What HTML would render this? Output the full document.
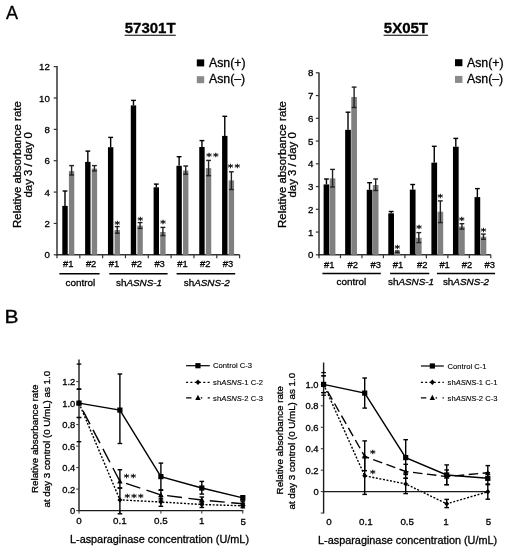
<!DOCTYPE html>
<html><head><meta charset="utf-8"><title>Figure</title>
<style>html,body{margin:0;padding:0;background:#fff}svg{display:block}</style></head>
<body>
<svg width="511" height="550" viewBox="0 0 511 550" font-family="Liberation Sans, Arial, Helvetica, sans-serif">
<style>text{stroke:#000;stroke-width:0.3px}</style>
<rect width="511" height="550" fill="#fff"/>
<text x="5.90" y="19.20" font-size="18" text-anchor="start" font-weight="normal" fill="#000" >A</text>
<text transform="translate(4.4,323.3) scale(1.17,1)" font-size="18">B</text>
<text x="150.20" y="33.00" font-size="15" text-anchor="middle" font-weight="bold" fill="#000" >57301T</text>
<line x1="124.60" y1="35.20" x2="175.80" y2="35.20" stroke="#000" stroke-width="1.1" />
<rect x="196.80" y="59.40" width="7.40" height="7.00" fill="#000"/>
<text x="209.00" y="66.60" font-size="12.3" text-anchor="start" font-weight="normal" fill="#000" >Asn(+)</text>
<rect x="196.80" y="76.20" width="7.40" height="7.00" fill="#8a8a8a"/>
<text x="209.00" y="83.40" font-size="12.3" text-anchor="start" font-weight="normal" fill="#000" >Asn(–)</text>
<line x1="57.00" y1="66.00" x2="57.00" y2="255.50" stroke="#333" stroke-width="1.5" />
<line x1="56.30" y1="254.80" x2="239.60" y2="254.80" stroke="#333" stroke-width="1.5" />
<line x1="53.70" y1="254.80" x2="57.00" y2="254.80" stroke="#333" stroke-width="1.2" />
<text x="49.80" y="258.40" font-size="9.7" text-anchor="end" font-weight="normal" fill="#000" >0</text>
<line x1="53.70" y1="223.44" x2="57.00" y2="223.44" stroke="#333" stroke-width="1.2" />
<text x="49.80" y="227.04" font-size="9.7" text-anchor="end" font-weight="normal" fill="#000" >2</text>
<line x1="53.70" y1="192.08" x2="57.00" y2="192.08" stroke="#333" stroke-width="1.2" />
<text x="49.80" y="195.68" font-size="9.7" text-anchor="end" font-weight="normal" fill="#000" >4</text>
<line x1="53.70" y1="160.72" x2="57.00" y2="160.72" stroke="#333" stroke-width="1.2" />
<text x="49.80" y="164.32" font-size="9.7" text-anchor="end" font-weight="normal" fill="#000" >6</text>
<line x1="53.70" y1="129.36" x2="57.00" y2="129.36" stroke="#333" stroke-width="1.2" />
<text x="49.80" y="132.96" font-size="9.7" text-anchor="end" font-weight="normal" fill="#000" >8</text>
<line x1="53.70" y1="98.00" x2="57.00" y2="98.00" stroke="#333" stroke-width="1.2" />
<text x="49.80" y="101.60" font-size="9.7" text-anchor="end" font-weight="normal" fill="#000" >10</text>
<line x1="53.70" y1="66.64" x2="57.00" y2="66.64" stroke="#333" stroke-width="1.2" />
<text x="49.80" y="70.24" font-size="9.7" text-anchor="end" font-weight="normal" fill="#000" >12</text>
<line x1="57.00" y1="254.80" x2="57.00" y2="258.20" stroke="#333" stroke-width="1.2" />
<line x1="79.83" y1="254.80" x2="79.83" y2="258.20" stroke="#333" stroke-width="1.2" />
<line x1="102.65" y1="254.80" x2="102.65" y2="258.20" stroke="#333" stroke-width="1.2" />
<line x1="125.47" y1="254.80" x2="125.47" y2="258.20" stroke="#333" stroke-width="1.2" />
<line x1="148.30" y1="254.80" x2="148.30" y2="258.20" stroke="#333" stroke-width="1.2" />
<line x1="171.12" y1="254.80" x2="171.12" y2="258.20" stroke="#333" stroke-width="1.2" />
<line x1="193.95" y1="254.80" x2="193.95" y2="258.20" stroke="#333" stroke-width="1.2" />
<line x1="216.78" y1="254.80" x2="216.78" y2="258.20" stroke="#333" stroke-width="1.2" />
<line x1="239.60" y1="254.80" x2="239.60" y2="258.20" stroke="#333" stroke-width="1.2" />
<text transform="translate(20.6,164.6) rotate(-90)" font-size="11.4" text-anchor="middle">Relative absorbance rate</text>
<text transform="translate(31.6,164.9) rotate(-90)" font-size="11.4" text-anchor="middle">day 3 / day 0</text>
<rect x="62.30" y="205.90" width="5.40" height="48.90" fill="#000"/>
<line x1="65.00" y1="191.00" x2="65.00" y2="205.90" stroke="#000" stroke-width="1.4" />
<line x1="62.60" y1="191.00" x2="67.40" y2="191.00" stroke="#000" stroke-width="1.4" />
<rect x="68.90" y="171.10" width="5.40" height="83.70" fill="#808080"/>
<line x1="71.60" y1="165.60" x2="71.60" y2="175.00" stroke="#222" stroke-width="1.4" />
<line x1="69.20" y1="165.60" x2="74.00" y2="165.60" stroke="#222" stroke-width="1.4" />
<line x1="69.20" y1="175.00" x2="74.00" y2="175.00" stroke="#222" stroke-width="1.4" />
<rect x="85.12" y="161.90" width="5.40" height="92.90" fill="#000"/>
<line x1="87.83" y1="151.10" x2="87.83" y2="161.90" stroke="#000" stroke-width="1.4" />
<line x1="85.42" y1="151.10" x2="90.23" y2="151.10" stroke="#000" stroke-width="1.4" />
<rect x="91.73" y="168.60" width="5.40" height="86.20" fill="#808080"/>
<line x1="94.43" y1="165.60" x2="94.43" y2="170.90" stroke="#222" stroke-width="1.4" />
<line x1="92.03" y1="165.60" x2="96.83" y2="165.60" stroke="#222" stroke-width="1.4" />
<line x1="92.03" y1="170.90" x2="96.83" y2="170.90" stroke="#222" stroke-width="1.4" />
<rect x="107.95" y="147.20" width="5.40" height="107.60" fill="#000"/>
<line x1="110.65" y1="137.40" x2="110.65" y2="147.20" stroke="#000" stroke-width="1.4" />
<line x1="108.25" y1="137.40" x2="113.05" y2="137.40" stroke="#000" stroke-width="1.4" />
<rect x="114.55" y="230.00" width="5.40" height="24.80" fill="#808080"/>
<line x1="117.25" y1="226.60" x2="117.25" y2="233.20" stroke="#222" stroke-width="1.4" />
<line x1="114.85" y1="226.60" x2="119.65" y2="226.60" stroke="#222" stroke-width="1.4" />
<line x1="114.85" y1="233.20" x2="119.65" y2="233.20" stroke="#222" stroke-width="1.4" />
<rect x="130.78" y="105.40" width="5.40" height="149.40" fill="#000"/>
<line x1="133.47" y1="100.40" x2="133.47" y2="105.40" stroke="#000" stroke-width="1.4" />
<line x1="131.07" y1="100.40" x2="135.88" y2="100.40" stroke="#000" stroke-width="1.4" />
<rect x="137.38" y="225.60" width="5.40" height="29.20" fill="#808080"/>
<line x1="140.07" y1="222.60" x2="140.07" y2="228.40" stroke="#222" stroke-width="1.4" />
<line x1="137.67" y1="222.60" x2="142.47" y2="222.60" stroke="#222" stroke-width="1.4" />
<line x1="137.67" y1="228.40" x2="142.47" y2="228.40" stroke="#222" stroke-width="1.4" />
<rect x="153.60" y="187.30" width="5.40" height="67.50" fill="#000"/>
<line x1="156.30" y1="184.10" x2="156.30" y2="187.30" stroke="#000" stroke-width="1.4" />
<line x1="153.90" y1="184.10" x2="158.70" y2="184.10" stroke="#000" stroke-width="1.4" />
<rect x="160.20" y="232.00" width="5.40" height="22.80" fill="#808080"/>
<line x1="162.90" y1="227.40" x2="162.90" y2="235.60" stroke="#222" stroke-width="1.4" />
<line x1="160.50" y1="227.40" x2="165.30" y2="227.40" stroke="#222" stroke-width="1.4" />
<line x1="160.50" y1="235.60" x2="165.30" y2="235.60" stroke="#222" stroke-width="1.4" />
<rect x="176.43" y="165.80" width="5.40" height="89.00" fill="#000"/>
<line x1="179.12" y1="156.70" x2="179.12" y2="165.80" stroke="#000" stroke-width="1.4" />
<line x1="176.72" y1="156.70" x2="181.53" y2="156.70" stroke="#000" stroke-width="1.4" />
<rect x="183.03" y="170.50" width="5.40" height="84.30" fill="#808080"/>
<line x1="185.72" y1="166.00" x2="185.72" y2="174.20" stroke="#222" stroke-width="1.4" />
<line x1="183.32" y1="166.00" x2="188.12" y2="166.00" stroke="#222" stroke-width="1.4" />
<line x1="183.32" y1="174.20" x2="188.12" y2="174.20" stroke="#222" stroke-width="1.4" />
<rect x="199.25" y="147.00" width="5.40" height="107.80" fill="#000"/>
<line x1="201.95" y1="140.60" x2="201.95" y2="147.00" stroke="#000" stroke-width="1.4" />
<line x1="199.55" y1="140.60" x2="204.35" y2="140.60" stroke="#000" stroke-width="1.4" />
<rect x="205.85" y="168.10" width="5.40" height="86.70" fill="#808080"/>
<line x1="208.55" y1="160.40" x2="208.55" y2="175.70" stroke="#222" stroke-width="1.4" />
<line x1="206.15" y1="160.40" x2="210.95" y2="160.40" stroke="#222" stroke-width="1.4" />
<line x1="206.15" y1="175.70" x2="210.95" y2="175.70" stroke="#222" stroke-width="1.4" />
<rect x="222.08" y="135.90" width="5.40" height="118.90" fill="#000"/>
<line x1="224.78" y1="116.30" x2="224.78" y2="135.90" stroke="#000" stroke-width="1.4" />
<line x1="222.38" y1="116.30" x2="227.18" y2="116.30" stroke="#000" stroke-width="1.4" />
<rect x="228.68" y="180.40" width="5.40" height="74.40" fill="#808080"/>
<line x1="231.38" y1="171.80" x2="231.38" y2="189.50" stroke="#222" stroke-width="1.4" />
<line x1="228.97" y1="171.80" x2="233.78" y2="171.80" stroke="#222" stroke-width="1.4" />
<line x1="228.97" y1="189.50" x2="233.78" y2="189.50" stroke="#222" stroke-width="1.4" />
<text x="68.31" y="267.30" font-size="9.4" text-anchor="middle" font-weight="normal" fill="#000" >#1</text>
<text x="91.14" y="267.30" font-size="9.4" text-anchor="middle" font-weight="normal" fill="#000" >#2</text>
<text x="113.96" y="267.30" font-size="9.4" text-anchor="middle" font-weight="normal" fill="#000" >#1</text>
<text x="136.79" y="267.30" font-size="9.4" text-anchor="middle" font-weight="normal" fill="#000" >#2</text>
<text x="159.61" y="267.30" font-size="9.4" text-anchor="middle" font-weight="normal" fill="#000" >#3</text>
<text x="182.44" y="267.30" font-size="9.4" text-anchor="middle" font-weight="normal" fill="#000" >#1</text>
<text x="205.26" y="267.30" font-size="9.4" text-anchor="middle" font-weight="normal" fill="#000" >#2</text>
<text x="228.09" y="267.30" font-size="9.4" text-anchor="middle" font-weight="normal" fill="#000" >#3</text>
<line x1="59.40" y1="273.80" x2="99.60" y2="273.80" stroke="#000" stroke-width="1.5" />
<line x1="109.30" y1="273.80" x2="167.60" y2="273.80" stroke="#000" stroke-width="1.5" />
<line x1="176.60" y1="273.80" x2="235.20" y2="273.80" stroke="#000" stroke-width="1.5" />
<text x="80.30" y="285.60" font-size="9.9" text-anchor="middle" font-weight="normal" fill="#000" >control</text>
<text x="116.0" y="285.6" font-size="9.9">sh<tspan font-style="italic">ASNS-1</tspan></text>
<text x="183.7" y="285.6" font-size="9.9">sh<tspan font-style="italic">ASNS-2</tspan></text>
<text transform="translate(117.40,222.70) scale(1.12,0.92)" x="0" y="5.50" font-size="10" text-anchor="middle" font-family="DejaVu Sans, sans-serif" style="stroke-width:0.3px">*</text>
<text transform="translate(140.40,218.80) scale(1.12,0.92)" x="0" y="5.50" font-size="10" text-anchor="middle" font-family="DejaVu Sans, sans-serif" style="stroke-width:0.3px">*</text>
<text transform="translate(163.00,222.10) scale(1.12,0.92)" x="0" y="5.50" font-size="10" text-anchor="middle" font-family="DejaVu Sans, sans-serif" style="stroke-width:0.3px">*</text>
<text transform="translate(209.10,154.50) scale(1.12,0.92)" x="0" y="5.50" font-size="10" text-anchor="middle" font-family="DejaVu Sans, sans-serif" style="stroke-width:0.3px">*</text>
<text transform="translate(215.80,154.50) scale(1.12,0.92)" x="0" y="5.50" font-size="10" text-anchor="middle" font-family="DejaVu Sans, sans-serif" style="stroke-width:0.3px">*</text>
<text transform="translate(230.60,165.50) scale(1.12,0.92)" x="0" y="5.50" font-size="10" text-anchor="middle" font-family="DejaVu Sans, sans-serif" style="stroke-width:0.3px">*</text>
<text transform="translate(237.30,165.50) scale(1.12,0.92)" x="0" y="5.50" font-size="10" text-anchor="middle" font-family="DejaVu Sans, sans-serif" style="stroke-width:0.3px">*</text>
<text x="405.90" y="33.00" font-size="15" text-anchor="middle" font-weight="bold" fill="#000" >5X05T</text>
<line x1="383.60" y1="35.30" x2="428.10" y2="35.30" stroke="#000" stroke-width="1.1" />
<rect x="455.00" y="59.20" width="7.40" height="7.00" fill="#000"/>
<text x="467.00" y="66.60" font-size="12.3" text-anchor="start" font-weight="normal" fill="#000" >Asn(+)</text>
<rect x="455.00" y="75.90" width="7.40" height="7.00" fill="#8a8a8a"/>
<text x="467.00" y="83.40" font-size="12.3" text-anchor="start" font-weight="normal" fill="#000" >Asn(–)</text>
<line x1="319.00" y1="72.40" x2="319.00" y2="255.50" stroke="#333" stroke-width="1.5" />
<line x1="318.30" y1="254.80" x2="490.80" y2="254.80" stroke="#333" stroke-width="1.5" />
<line x1="315.80" y1="254.80" x2="319.00" y2="254.80" stroke="#333" stroke-width="1.2" />
<text x="313.40" y="258.40" font-size="9.7" text-anchor="end" font-weight="normal" fill="#000" >0</text>
<line x1="315.80" y1="232.05" x2="319.00" y2="232.05" stroke="#333" stroke-width="1.2" />
<text x="313.40" y="235.65" font-size="9.7" text-anchor="end" font-weight="normal" fill="#000" >1</text>
<line x1="315.80" y1="209.30" x2="319.00" y2="209.30" stroke="#333" stroke-width="1.2" />
<text x="313.40" y="212.90" font-size="9.7" text-anchor="end" font-weight="normal" fill="#000" >2</text>
<line x1="315.80" y1="186.55" x2="319.00" y2="186.55" stroke="#333" stroke-width="1.2" />
<text x="313.40" y="190.15" font-size="9.7" text-anchor="end" font-weight="normal" fill="#000" >3</text>
<line x1="315.80" y1="163.80" x2="319.00" y2="163.80" stroke="#333" stroke-width="1.2" />
<text x="313.40" y="167.40" font-size="9.7" text-anchor="end" font-weight="normal" fill="#000" >4</text>
<line x1="315.80" y1="141.05" x2="319.00" y2="141.05" stroke="#333" stroke-width="1.2" />
<text x="313.40" y="144.65" font-size="9.7" text-anchor="end" font-weight="normal" fill="#000" >5</text>
<line x1="315.80" y1="118.30" x2="319.00" y2="118.30" stroke="#333" stroke-width="1.2" />
<text x="313.40" y="121.90" font-size="9.7" text-anchor="end" font-weight="normal" fill="#000" >6</text>
<line x1="315.80" y1="95.55" x2="319.00" y2="95.55" stroke="#333" stroke-width="1.2" />
<text x="313.40" y="99.15" font-size="9.7" text-anchor="end" font-weight="normal" fill="#000" >7</text>
<line x1="315.80" y1="72.80" x2="319.00" y2="72.80" stroke="#333" stroke-width="1.2" />
<text x="313.40" y="76.40" font-size="9.7" text-anchor="end" font-weight="normal" fill="#000" >8</text>
<line x1="319.00" y1="254.80" x2="319.00" y2="258.20" stroke="#333" stroke-width="1.2" />
<line x1="340.48" y1="254.80" x2="340.48" y2="258.20" stroke="#333" stroke-width="1.2" />
<line x1="361.95" y1="254.80" x2="361.95" y2="258.20" stroke="#333" stroke-width="1.2" />
<line x1="383.43" y1="254.80" x2="383.43" y2="258.20" stroke="#333" stroke-width="1.2" />
<line x1="404.90" y1="254.80" x2="404.90" y2="258.20" stroke="#333" stroke-width="1.2" />
<line x1="426.38" y1="254.80" x2="426.38" y2="258.20" stroke="#333" stroke-width="1.2" />
<line x1="447.85" y1="254.80" x2="447.85" y2="258.20" stroke="#333" stroke-width="1.2" />
<line x1="469.33" y1="254.80" x2="469.33" y2="258.20" stroke="#333" stroke-width="1.2" />
<line x1="490.80" y1="254.80" x2="490.80" y2="258.20" stroke="#333" stroke-width="1.2" />
<text transform="translate(285.5,164.6) rotate(-90)" font-size="11.4" text-anchor="middle">Relative absorbance rate</text>
<text transform="translate(296.3,164.9) rotate(-90)" font-size="11.4" text-anchor="middle">day 3 / day 0</text>
<rect x="323.60" y="184.40" width="5.70" height="70.40" fill="#000"/>
<line x1="326.45" y1="179.00" x2="326.45" y2="184.40" stroke="#000" stroke-width="1.4" />
<line x1="324.05" y1="179.00" x2="328.85" y2="179.00" stroke="#000" stroke-width="1.4" />
<rect x="329.70" y="178.40" width="5.70" height="76.40" fill="#808080"/>
<line x1="332.55" y1="169.40" x2="332.55" y2="187.00" stroke="#222" stroke-width="1.4" />
<line x1="330.15" y1="169.40" x2="334.95" y2="169.40" stroke="#222" stroke-width="1.4" />
<line x1="330.15" y1="187.00" x2="334.95" y2="187.00" stroke="#222" stroke-width="1.4" />
<rect x="345.16" y="129.80" width="5.70" height="125.00" fill="#000"/>
<line x1="348.01" y1="112.20" x2="348.01" y2="129.80" stroke="#000" stroke-width="1.4" />
<line x1="345.61" y1="112.20" x2="350.41" y2="112.20" stroke="#000" stroke-width="1.4" />
<rect x="351.26" y="97.00" width="5.70" height="157.80" fill="#808080"/>
<line x1="354.11" y1="87.10" x2="354.11" y2="107.50" stroke="#222" stroke-width="1.4" />
<line x1="351.71" y1="87.10" x2="356.51" y2="87.10" stroke="#222" stroke-width="1.4" />
<line x1="351.71" y1="107.50" x2="356.51" y2="107.50" stroke="#222" stroke-width="1.4" />
<rect x="366.72" y="189.80" width="5.70" height="65.00" fill="#000"/>
<line x1="369.57" y1="182.70" x2="369.57" y2="189.80" stroke="#000" stroke-width="1.4" />
<line x1="367.17" y1="182.70" x2="371.97" y2="182.70" stroke="#000" stroke-width="1.4" />
<rect x="372.82" y="185.00" width="5.70" height="69.80" fill="#808080"/>
<line x1="375.67" y1="179.00" x2="375.67" y2="190.50" stroke="#222" stroke-width="1.4" />
<line x1="373.27" y1="179.00" x2="378.07" y2="179.00" stroke="#222" stroke-width="1.4" />
<line x1="373.27" y1="190.50" x2="378.07" y2="190.50" stroke="#222" stroke-width="1.4" />
<rect x="388.28" y="213.30" width="5.70" height="41.50" fill="#000"/>
<line x1="391.13" y1="211.50" x2="391.13" y2="213.30" stroke="#000" stroke-width="1.4" />
<line x1="388.73" y1="211.50" x2="393.53" y2="211.50" stroke="#000" stroke-width="1.4" />
<rect x="394.38" y="251.80" width="5.70" height="3.00" fill="#808080"/>
<line x1="397.23" y1="251.00" x2="397.23" y2="252.60" stroke="#222" stroke-width="1.4" />
<line x1="394.83" y1="251.00" x2="399.63" y2="251.00" stroke="#222" stroke-width="1.4" />
<line x1="394.83" y1="252.60" x2="399.63" y2="252.60" stroke="#222" stroke-width="1.4" />
<rect x="409.84" y="189.60" width="5.70" height="65.20" fill="#000"/>
<line x1="412.69" y1="184.50" x2="412.69" y2="189.60" stroke="#000" stroke-width="1.4" />
<line x1="410.29" y1="184.50" x2="415.09" y2="184.50" stroke="#000" stroke-width="1.4" />
<rect x="415.94" y="237.80" width="5.70" height="17.00" fill="#808080"/>
<line x1="418.79" y1="232.60" x2="418.79" y2="242.60" stroke="#222" stroke-width="1.4" />
<line x1="416.39" y1="232.60" x2="421.19" y2="232.60" stroke="#222" stroke-width="1.4" />
<line x1="416.39" y1="242.60" x2="421.19" y2="242.60" stroke="#222" stroke-width="1.4" />
<rect x="431.40" y="162.60" width="5.70" height="92.20" fill="#000"/>
<line x1="434.25" y1="146.30" x2="434.25" y2="162.60" stroke="#000" stroke-width="1.4" />
<line x1="431.85" y1="146.30" x2="436.65" y2="146.30" stroke="#000" stroke-width="1.4" />
<rect x="437.50" y="211.70" width="5.70" height="43.10" fill="#808080"/>
<line x1="440.35" y1="200.90" x2="440.35" y2="222.60" stroke="#222" stroke-width="1.4" />
<line x1="437.95" y1="200.90" x2="442.75" y2="200.90" stroke="#222" stroke-width="1.4" />
<line x1="437.95" y1="222.60" x2="442.75" y2="222.60" stroke="#222" stroke-width="1.4" />
<rect x="452.96" y="146.70" width="5.70" height="108.10" fill="#000"/>
<line x1="455.81" y1="138.40" x2="455.81" y2="146.70" stroke="#000" stroke-width="1.4" />
<line x1="453.41" y1="138.40" x2="458.21" y2="138.40" stroke="#000" stroke-width="1.4" />
<rect x="459.06" y="226.50" width="5.70" height="28.30" fill="#808080"/>
<line x1="461.91" y1="223.70" x2="461.91" y2="229.10" stroke="#222" stroke-width="1.4" />
<line x1="459.51" y1="223.70" x2="464.31" y2="223.70" stroke="#222" stroke-width="1.4" />
<line x1="459.51" y1="229.10" x2="464.31" y2="229.10" stroke="#222" stroke-width="1.4" />
<rect x="474.52" y="197.10" width="5.70" height="57.70" fill="#000"/>
<line x1="477.37" y1="188.60" x2="477.37" y2="197.10" stroke="#000" stroke-width="1.4" />
<line x1="474.97" y1="188.60" x2="479.77" y2="188.60" stroke="#000" stroke-width="1.4" />
<rect x="480.62" y="236.70" width="5.70" height="18.10" fill="#808080"/>
<line x1="483.47" y1="234.10" x2="483.47" y2="239.30" stroke="#222" stroke-width="1.4" />
<line x1="481.07" y1="234.10" x2="485.87" y2="234.10" stroke="#222" stroke-width="1.4" />
<line x1="481.07" y1="239.30" x2="485.87" y2="239.30" stroke="#222" stroke-width="1.4" />
<text x="329.30" y="267.60" font-size="9.4" text-anchor="middle" font-weight="normal" fill="#000" >#1</text>
<text x="352.70" y="267.60" font-size="9.4" text-anchor="middle" font-weight="normal" fill="#000" >#2</text>
<text x="375.80" y="267.60" font-size="9.4" text-anchor="middle" font-weight="normal" fill="#000" >#3</text>
<text x="397.90" y="267.60" font-size="9.4" text-anchor="middle" font-weight="normal" fill="#000" >#1</text>
<text x="422.30" y="267.60" font-size="9.4" text-anchor="middle" font-weight="normal" fill="#000" >#2</text>
<text x="444.60" y="267.60" font-size="9.4" text-anchor="middle" font-weight="normal" fill="#000" >#1</text>
<text x="467.00" y="267.60" font-size="9.4" text-anchor="middle" font-weight="normal" fill="#000" >#2</text>
<text x="489.70" y="267.60" font-size="9.4" text-anchor="middle" font-weight="normal" fill="#000" >#3</text>
<line x1="322.40" y1="273.60" x2="380.80" y2="273.60" stroke="#000" stroke-width="1.5" />
<line x1="390.10" y1="273.60" x2="429.30" y2="273.60" stroke="#000" stroke-width="1.5" />
<line x1="436.90" y1="273.60" x2="495.10" y2="273.60" stroke="#000" stroke-width="1.5" />
<text x="351.30" y="285.40" font-size="9.9" text-anchor="middle" font-weight="normal" fill="#000" >control</text>
<text x="388.0" y="285.2" font-size="9.9">sh<tspan font-style="italic">ASNS-1</tspan></text>
<text x="442.9" y="285.2" font-size="9.9">sh<tspan font-style="italic">ASNS-2</tspan></text>
<text transform="translate(397.40,246.50) scale(1.12,0.92)" x="0" y="5.50" font-size="10" text-anchor="middle" font-family="DejaVu Sans, sans-serif" style="stroke-width:0.3px">*</text>
<text transform="translate(419.10,227.40) scale(1.12,0.92)" x="0" y="5.50" font-size="10" text-anchor="middle" font-family="DejaVu Sans, sans-serif" style="stroke-width:0.3px">*</text>
<text transform="translate(440.30,195.80) scale(1.12,0.92)" x="0" y="5.50" font-size="10" text-anchor="middle" font-family="DejaVu Sans, sans-serif" style="stroke-width:0.3px">*</text>
<text transform="translate(461.90,219.30) scale(1.12,0.92)" x="0" y="5.50" font-size="10" text-anchor="middle" font-family="DejaVu Sans, sans-serif" style="stroke-width:0.3px">*</text>
<text transform="translate(483.60,229.70) scale(1.12,0.92)" x="0" y="5.50" font-size="10" text-anchor="middle" font-family="DejaVu Sans, sans-serif" style="stroke-width:0.3px">*</text>
<line x1="79.00" y1="359.40" x2="79.00" y2="511.30" stroke="#1c1c1c" stroke-width="1.4" />
<line x1="78.30" y1="510.60" x2="243.40" y2="510.60" stroke="#1c1c1c" stroke-width="1.4" />
<line x1="76.20" y1="510.60" x2="79.00" y2="510.60" stroke="#333" stroke-width="1" />
<text x="75.30" y="514.00" font-size="9.4" text-anchor="end" font-weight="normal" fill="#000" >0</text>
<line x1="76.20" y1="489.10" x2="79.00" y2="489.10" stroke="#333" stroke-width="1" />
<text x="75.30" y="492.50" font-size="9.4" text-anchor="end" font-weight="normal" fill="#000" >0.2</text>
<line x1="76.20" y1="467.60" x2="79.00" y2="467.60" stroke="#333" stroke-width="1" />
<text x="75.30" y="471.00" font-size="9.4" text-anchor="end" font-weight="normal" fill="#000" >0.4</text>
<line x1="76.20" y1="446.10" x2="79.00" y2="446.10" stroke="#333" stroke-width="1" />
<text x="75.30" y="449.50" font-size="9.4" text-anchor="end" font-weight="normal" fill="#000" >0.6</text>
<line x1="76.20" y1="424.60" x2="79.00" y2="424.60" stroke="#333" stroke-width="1" />
<text x="75.30" y="428.00" font-size="9.4" text-anchor="end" font-weight="normal" fill="#000" >0.8</text>
<line x1="76.20" y1="403.10" x2="79.00" y2="403.10" stroke="#333" stroke-width="1" />
<text x="75.30" y="406.50" font-size="9.4" text-anchor="end" font-weight="normal" fill="#000" >1.0</text>
<line x1="76.20" y1="381.60" x2="79.00" y2="381.60" stroke="#333" stroke-width="1" />
<text x="75.30" y="385.00" font-size="9.4" text-anchor="end" font-weight="normal" fill="#000" >1.2</text>
<line x1="79.00" y1="510.60" x2="79.00" y2="513.60" stroke="#333" stroke-width="1" />
<text x="79.00" y="524.40" font-size="9.8" text-anchor="middle" font-weight="normal" fill="#000" >0</text>
<line x1="119.90" y1="510.60" x2="119.90" y2="513.60" stroke="#333" stroke-width="1" />
<text x="119.90" y="524.40" font-size="9.8" text-anchor="middle" font-weight="normal" fill="#000" >0.1</text>
<line x1="160.90" y1="510.60" x2="160.90" y2="513.60" stroke="#333" stroke-width="1" />
<text x="160.90" y="524.40" font-size="9.8" text-anchor="middle" font-weight="normal" fill="#000" >0.5</text>
<line x1="201.80" y1="510.60" x2="201.80" y2="513.60" stroke="#333" stroke-width="1" />
<text x="201.80" y="524.40" font-size="9.8" text-anchor="middle" font-weight="normal" fill="#000" >1</text>
<line x1="242.80" y1="510.60" x2="242.80" y2="513.60" stroke="#333" stroke-width="1" />
<text x="243.30" y="525.40" font-size="9.8" text-anchor="middle" font-weight="normal" fill="#000" >5</text>
<text transform="translate(37.8,438.8) rotate(-90)" font-size="9.75" text-anchor="middle">Relative absorbance rate</text>
<text transform="translate(49.6,439.2) rotate(-90)" font-size="9.75" text-anchor="middle">at day 3 control (0 U/mL) as 1.0</text>
<text x="159.50" y="542.50" font-size="10.85" text-anchor="middle" font-weight="normal" fill="#000" >L-asparaginase concentration (U/mL)</text>
<polyline points="79.00,403.10 119.90,499.90 160.90,502.00 201.80,504.50 242.80,505.80" fill="none" stroke="#000" stroke-width="1.4" stroke-dasharray="2 1.6"/>
<line x1="76.70" y1="389.10" x2="81.30" y2="389.10" stroke="#000" stroke-width="1.3" />
<line x1="76.70" y1="417.50" x2="81.30" y2="417.50" stroke="#000" stroke-width="1.3" />
<path d="M79.00 400.40 L81.50 403.10 L79.00 405.80 L76.50 403.10 Z" fill="#000"/>
<line x1="119.90" y1="488.00" x2="119.90" y2="513.80" stroke="#000" stroke-width="1.4" />
<line x1="117.60" y1="488.00" x2="122.20" y2="488.00" stroke="#000" stroke-width="1.4" />
<line x1="117.60" y1="513.80" x2="122.20" y2="513.80" stroke="#000" stroke-width="1.4" />
<path d="M119.90 497.20 L122.40 499.90 L119.90 502.60 L117.40 499.90 Z" fill="#000"/>
<line x1="160.90" y1="498.20" x2="160.90" y2="506.30" stroke="#000" stroke-width="1.4" />
<line x1="158.60" y1="498.20" x2="163.20" y2="498.20" stroke="#000" stroke-width="1.4" />
<line x1="158.60" y1="506.30" x2="163.20" y2="506.30" stroke="#000" stroke-width="1.4" />
<path d="M160.90 499.30 L163.40 502.00 L160.90 504.70 L158.40 502.00 Z" fill="#000"/>
<line x1="201.80" y1="501.50" x2="201.80" y2="507.50" stroke="#000" stroke-width="1.4" />
<line x1="199.50" y1="501.50" x2="204.10" y2="501.50" stroke="#000" stroke-width="1.4" />
<line x1="199.50" y1="507.50" x2="204.10" y2="507.50" stroke="#000" stroke-width="1.4" />
<path d="M201.80 501.80 L204.30 504.50 L201.80 507.20 L199.30 504.50 Z" fill="#000"/>
<line x1="242.80" y1="503.80" x2="242.80" y2="507.80" stroke="#000" stroke-width="1.4" />
<line x1="240.50" y1="503.80" x2="245.10" y2="503.80" stroke="#000" stroke-width="1.4" />
<line x1="240.50" y1="507.80" x2="245.10" y2="507.80" stroke="#000" stroke-width="1.4" />
<path d="M242.80 503.10 L245.30 505.80 L242.80 508.50 L240.30 505.80 Z" fill="#000"/>
<polyline points="79.00,403.10 119.90,481.30 160.90,494.90 201.80,500.00 242.80,503.80" fill="none" stroke="#000" stroke-width="1.4" stroke-dasharray="15 6.5" stroke-dashoffset="12.8"/>
<line x1="76.70" y1="389.10" x2="81.30" y2="389.10" stroke="#000" stroke-width="1.3" />
<line x1="76.70" y1="417.50" x2="81.30" y2="417.50" stroke="#000" stroke-width="1.3" />
<path d="M79.00 400.10 L81.70 405.30 L76.30 405.30 Z" fill="#000"/>
<line x1="119.90" y1="469.70" x2="119.90" y2="488.00" stroke="#000" stroke-width="1.4" />
<line x1="117.60" y1="469.70" x2="122.20" y2="469.70" stroke="#000" stroke-width="1.4" />
<line x1="117.60" y1="488.00" x2="122.20" y2="488.00" stroke="#000" stroke-width="1.4" />
<path d="M119.90 478.30 L122.60 483.50 L117.20 483.50 Z" fill="#000"/>
<line x1="160.90" y1="489.80" x2="160.90" y2="500.00" stroke="#000" stroke-width="1.4" />
<line x1="158.60" y1="489.80" x2="163.20" y2="489.80" stroke="#000" stroke-width="1.4" />
<line x1="158.60" y1="500.00" x2="163.20" y2="500.00" stroke="#000" stroke-width="1.4" />
<path d="M160.90 491.90 L163.60 497.10 L158.20 497.10 Z" fill="#000"/>
<line x1="201.80" y1="497.00" x2="201.80" y2="503.00" stroke="#000" stroke-width="1.4" />
<line x1="199.50" y1="497.00" x2="204.10" y2="497.00" stroke="#000" stroke-width="1.4" />
<line x1="199.50" y1="503.00" x2="204.10" y2="503.00" stroke="#000" stroke-width="1.4" />
<path d="M201.80 497.00 L204.50 502.20 L199.10 502.20 Z" fill="#000"/>
<line x1="242.80" y1="501.80" x2="242.80" y2="505.80" stroke="#000" stroke-width="1.4" />
<line x1="240.50" y1="501.80" x2="245.10" y2="501.80" stroke="#000" stroke-width="1.4" />
<line x1="240.50" y1="505.80" x2="245.10" y2="505.80" stroke="#000" stroke-width="1.4" />
<path d="M242.80 500.80 L245.50 506.00 L240.10 506.00 Z" fill="#000"/>
<polyline points="79.00,403.10 119.90,410.10 160.90,476.60 201.80,488.00 242.80,497.90" fill="none" stroke="#000" stroke-width="1.4" />
<line x1="76.70" y1="364.10" x2="81.30" y2="364.10" stroke="#000" stroke-width="1.3" />
<line x1="76.70" y1="441.70" x2="81.30" y2="441.70" stroke="#000" stroke-width="1.3" />
<rect x="76.40" y="400.50" width="5.20" height="5.20" fill="#000"/>
<line x1="119.90" y1="374.00" x2="119.90" y2="443.50" stroke="#000" stroke-width="1.4" />
<line x1="117.60" y1="374.00" x2="122.20" y2="374.00" stroke="#000" stroke-width="1.4" />
<line x1="117.60" y1="443.50" x2="122.20" y2="443.50" stroke="#000" stroke-width="1.4" />
<rect x="117.30" y="407.50" width="5.20" height="5.20" fill="#000"/>
<line x1="160.90" y1="463.10" x2="160.90" y2="490.30" stroke="#000" stroke-width="1.4" />
<line x1="158.60" y1="463.10" x2="163.20" y2="463.10" stroke="#000" stroke-width="1.4" />
<line x1="158.60" y1="490.30" x2="163.20" y2="490.30" stroke="#000" stroke-width="1.4" />
<rect x="158.30" y="474.00" width="5.20" height="5.20" fill="#000"/>
<line x1="201.80" y1="481.40" x2="201.80" y2="494.10" stroke="#000" stroke-width="1.4" />
<line x1="199.50" y1="481.40" x2="204.10" y2="481.40" stroke="#000" stroke-width="1.4" />
<line x1="199.50" y1="494.10" x2="204.10" y2="494.10" stroke="#000" stroke-width="1.4" />
<rect x="199.20" y="485.40" width="5.20" height="5.20" fill="#000"/>
<line x1="242.80" y1="495.70" x2="242.80" y2="500.10" stroke="#000" stroke-width="1.4" />
<line x1="240.50" y1="495.70" x2="245.10" y2="495.70" stroke="#000" stroke-width="1.4" />
<line x1="240.50" y1="500.10" x2="245.10" y2="500.10" stroke="#000" stroke-width="1.4" />
<rect x="240.20" y="495.30" width="5.20" height="5.20" fill="#000"/>
<line x1="186.1" y1="365.7" x2="209.8" y2="365.7" stroke="#000" stroke-width="1.2" />
<rect x="195.35" y="363.10" width="5.20" height="5.20" fill="#000"/>
<text x="213.1" y="368.4" font-size="7.6" style="stroke-width:0.12px">Control C-3</text>
<line x1="186.1" y1="382.3" x2="209.8" y2="382.3" stroke="#000" stroke-width="1.2" stroke-dasharray="2 2.3"/>
<path d="M197.95 379.60 L200.45 382.30 L197.95 385.00 L195.45 382.30 Z" fill="#000"/>
<text x="213.1" y="385.0" font-size="7.6" style="stroke-width:0.12px">sh<tspan font-style="italic">ASNS</tspan>-1 C-2</text>
<line x1="186.1" y1="397.8" x2="209.8" y2="397.8" stroke="#000" stroke-width="1.2" stroke-dasharray="5.4 9.3 1.5 5.4 3 99"/>
<path d="M197.95 394.80 L200.65 400.00 L195.25 400.00 Z" fill="#000"/>
<text x="213.1" y="400.6" font-size="7.6" style="stroke-width:0.12px">sh<tspan font-style="italic">ASNS</tspan>-2 C-3</text>
<text transform="translate(126.55,476.40) scale(1.12,0.92)" x="0" y="5.50" font-size="10" text-anchor="middle" font-family="DejaVu Sans, sans-serif" style="stroke-width:0.3px">*</text>
<text transform="translate(133.25,476.40) scale(1.12,0.92)" x="0" y="5.50" font-size="10" text-anchor="middle" font-family="DejaVu Sans, sans-serif" style="stroke-width:0.3px">*</text>
<text transform="translate(127.30,495.60) scale(1.12,0.92)" x="0" y="5.50" font-size="10" text-anchor="middle" font-family="DejaVu Sans, sans-serif" style="stroke-width:0.3px">*</text>
<text transform="translate(134.00,495.60) scale(1.12,0.92)" x="0" y="5.50" font-size="10" text-anchor="middle" font-family="DejaVu Sans, sans-serif" style="stroke-width:0.3px">*</text>
<text transform="translate(140.70,495.60) scale(1.12,0.92)" x="0" y="5.50" font-size="10" text-anchor="middle" font-family="DejaVu Sans, sans-serif" style="stroke-width:0.3px">*</text>
<line x1="323.60" y1="362.50" x2="323.60" y2="513.40" stroke="#1c1c1c" stroke-width="1.4" />
<line x1="322.90" y1="491.60" x2="488.40" y2="491.60" stroke="#1c1c1c" stroke-width="1.4" />
<line x1="320.80" y1="513.04" x2="323.60" y2="513.04" stroke="#333" stroke-width="1" />
<line x1="320.80" y1="491.60" x2="323.60" y2="491.60" stroke="#333" stroke-width="1" />
<text x="318.60" y="495.00" font-size="9.4" text-anchor="end" font-weight="normal" fill="#000" >0</text>
<line x1="320.80" y1="470.16" x2="323.60" y2="470.16" stroke="#333" stroke-width="1" />
<text x="318.60" y="473.56" font-size="9.4" text-anchor="end" font-weight="normal" fill="#000" >0.2</text>
<line x1="320.80" y1="448.72" x2="323.60" y2="448.72" stroke="#333" stroke-width="1" />
<text x="318.60" y="452.12" font-size="9.4" text-anchor="end" font-weight="normal" fill="#000" >0.4</text>
<line x1="320.80" y1="427.28" x2="323.60" y2="427.28" stroke="#333" stroke-width="1" />
<text x="318.60" y="430.68" font-size="9.4" text-anchor="end" font-weight="normal" fill="#000" >0.6</text>
<line x1="320.80" y1="405.84" x2="323.60" y2="405.84" stroke="#333" stroke-width="1" />
<text x="318.60" y="409.24" font-size="9.4" text-anchor="end" font-weight="normal" fill="#000" >0.8</text>
<line x1="320.80" y1="384.40" x2="323.60" y2="384.40" stroke="#333" stroke-width="1" />
<text x="318.60" y="387.80" font-size="9.4" text-anchor="end" font-weight="normal" fill="#000" >1.0</text>
<text x="329.00" y="524.80" font-size="9.8" text-anchor="middle" font-weight="normal" fill="#000" >0</text>
<text x="365.90" y="524.80" font-size="9.8" text-anchor="middle" font-weight="normal" fill="#000" >0.1</text>
<text x="407.20" y="524.80" font-size="9.8" text-anchor="middle" font-weight="normal" fill="#000" >0.5</text>
<text x="445.90" y="524.80" font-size="9.8" text-anchor="middle" font-weight="normal" fill="#000" >1</text>
<text x="488.40" y="524.80" font-size="9.8" text-anchor="middle" font-weight="normal" fill="#000" >5</text>
<text transform="translate(282.8,440.2) rotate(-90)" font-size="9.75" text-anchor="middle">Relative absorbance rate</text>
<text transform="translate(294.6,441.2) rotate(-90)" font-size="9.75" text-anchor="middle">at day 3 control (0 U/mL) as 1.0</text>
<text x="407.60" y="543.60" font-size="10.85" text-anchor="middle" font-weight="normal" fill="#000" >L-asparaginase concentration (U/mL)</text>
<polyline points="323.60,384.40 364.70,475.80 405.70,483.90 446.70,503.80 487.80,491.80" fill="none" stroke="#000" stroke-width="1.4" stroke-dasharray="2 1.6"/>
<line x1="321.30" y1="375.80" x2="325.90" y2="375.80" stroke="#000" stroke-width="1.3" />
<line x1="321.30" y1="392.60" x2="325.90" y2="392.60" stroke="#000" stroke-width="1.3" />
<path d="M323.60 381.70 L326.10 384.40 L323.60 387.10 L321.10 384.40 Z" fill="#000"/>
<line x1="364.70" y1="457.00" x2="364.70" y2="494.40" stroke="#000" stroke-width="1.4" />
<line x1="362.40" y1="457.00" x2="367.00" y2="457.00" stroke="#000" stroke-width="1.4" />
<line x1="362.40" y1="494.40" x2="367.00" y2="494.40" stroke="#000" stroke-width="1.4" />
<path d="M364.70 473.10 L367.20 475.80 L364.70 478.50 L362.20 475.80 Z" fill="#000"/>
<line x1="405.70" y1="478.30" x2="405.70" y2="493.60" stroke="#000" stroke-width="1.4" />
<line x1="403.40" y1="478.30" x2="408.00" y2="478.30" stroke="#000" stroke-width="1.4" />
<line x1="403.40" y1="493.60" x2="408.00" y2="493.60" stroke="#000" stroke-width="1.4" />
<path d="M405.70 481.20 L408.20 483.90 L405.70 486.60 L403.20 483.90 Z" fill="#000"/>
<line x1="446.70" y1="499.40" x2="446.70" y2="507.60" stroke="#000" stroke-width="1.4" />
<line x1="444.40" y1="499.40" x2="449.00" y2="499.40" stroke="#000" stroke-width="1.4" />
<line x1="444.40" y1="507.60" x2="449.00" y2="507.60" stroke="#000" stroke-width="1.4" />
<path d="M446.70 501.10 L449.20 503.80 L446.70 506.50 L444.20 503.80 Z" fill="#000"/>
<line x1="487.80" y1="484.70" x2="487.80" y2="499.20" stroke="#000" stroke-width="1.4" />
<line x1="485.50" y1="484.70" x2="490.10" y2="484.70" stroke="#000" stroke-width="1.4" />
<line x1="485.50" y1="499.20" x2="490.10" y2="499.20" stroke="#000" stroke-width="1.4" />
<path d="M487.80 489.10 L490.30 491.80 L487.80 494.50 L485.30 491.80 Z" fill="#000"/>
<polyline points="323.60,384.40 364.70,456.40 405.70,471.50 446.70,476.60 487.80,472.70" fill="none" stroke="#000" stroke-width="1.4" stroke-dasharray="9.5 4.5" stroke-dashoffset="6"/>
<line x1="321.30" y1="375.80" x2="325.90" y2="375.80" stroke="#000" stroke-width="1.3" />
<line x1="321.30" y1="392.60" x2="325.90" y2="392.60" stroke="#000" stroke-width="1.3" />
<path d="M323.60 381.40 L326.30 386.60 L320.90 386.60 Z" fill="#000"/>
<line x1="364.70" y1="440.90" x2="364.70" y2="470.70" stroke="#000" stroke-width="1.4" />
<line x1="362.40" y1="440.90" x2="367.00" y2="440.90" stroke="#000" stroke-width="1.4" />
<line x1="362.40" y1="470.70" x2="367.00" y2="470.70" stroke="#000" stroke-width="1.4" />
<path d="M364.70 453.40 L367.40 458.60 L362.00 458.60 Z" fill="#000"/>
<line x1="405.70" y1="464.30" x2="405.70" y2="478.30" stroke="#000" stroke-width="1.4" />
<line x1="403.40" y1="464.30" x2="408.00" y2="464.30" stroke="#000" stroke-width="1.4" />
<line x1="403.40" y1="478.30" x2="408.00" y2="478.30" stroke="#000" stroke-width="1.4" />
<path d="M405.70 468.50 L408.40 473.70 L403.00 473.70 Z" fill="#000"/>
<line x1="446.70" y1="470.00" x2="446.70" y2="484.70" stroke="#000" stroke-width="1.4" />
<line x1="444.40" y1="470.00" x2="449.00" y2="470.00" stroke="#000" stroke-width="1.4" />
<line x1="444.40" y1="484.70" x2="449.00" y2="484.70" stroke="#000" stroke-width="1.4" />
<path d="M446.70 473.60 L449.40 478.80 L444.00 478.80 Z" fill="#000"/>
<line x1="487.80" y1="465.60" x2="487.80" y2="480.00" stroke="#000" stroke-width="1.4" />
<line x1="485.50" y1="465.60" x2="490.10" y2="465.60" stroke="#000" stroke-width="1.4" />
<line x1="485.50" y1="480.00" x2="490.10" y2="480.00" stroke="#000" stroke-width="1.4" />
<path d="M487.80 469.70 L490.50 474.90 L485.10 474.90 Z" fill="#000"/>
<polyline points="323.60,384.40 364.70,393.10 405.70,457.60 446.70,475.00 487.80,478.30" fill="none" stroke="#000" stroke-width="1.4" />
<line x1="321.30" y1="372.60" x2="325.90" y2="372.60" stroke="#000" stroke-width="1.3" />
<line x1="321.30" y1="395.20" x2="325.90" y2="395.20" stroke="#000" stroke-width="1.3" />
<rect x="321.00" y="381.80" width="5.20" height="5.20" fill="#000"/>
<line x1="364.70" y1="378.00" x2="364.70" y2="408.10" stroke="#000" stroke-width="1.4" />
<line x1="362.40" y1="378.00" x2="367.00" y2="378.00" stroke="#000" stroke-width="1.4" />
<line x1="362.40" y1="408.10" x2="367.00" y2="408.10" stroke="#000" stroke-width="1.4" />
<rect x="362.10" y="390.50" width="5.20" height="5.20" fill="#000"/>
<line x1="405.70" y1="439.70" x2="405.70" y2="474.50" stroke="#000" stroke-width="1.4" />
<line x1="403.40" y1="439.70" x2="408.00" y2="439.70" stroke="#000" stroke-width="1.4" />
<line x1="403.40" y1="474.50" x2="408.00" y2="474.50" stroke="#000" stroke-width="1.4" />
<rect x="403.10" y="455.00" width="5.20" height="5.20" fill="#000"/>
<line x1="446.70" y1="464.90" x2="446.70" y2="484.70" stroke="#000" stroke-width="1.4" />
<line x1="444.40" y1="464.90" x2="449.00" y2="464.90" stroke="#000" stroke-width="1.4" />
<line x1="444.40" y1="484.70" x2="449.00" y2="484.70" stroke="#000" stroke-width="1.4" />
<rect x="444.10" y="472.40" width="5.20" height="5.20" fill="#000"/>
<line x1="487.80" y1="472.70" x2="487.80" y2="484.00" stroke="#000" stroke-width="1.4" />
<line x1="485.50" y1="472.70" x2="490.10" y2="472.70" stroke="#000" stroke-width="1.4" />
<line x1="485.50" y1="484.00" x2="490.10" y2="484.00" stroke="#000" stroke-width="1.4" />
<rect x="485.20" y="475.70" width="5.20" height="5.20" fill="#000"/>
<line x1="420.9" y1="366.0" x2="443.8" y2="366.0" stroke="#000" stroke-width="1.2" />
<rect x="429.75" y="363.40" width="5.20" height="5.20" fill="#000"/>
<text x="447.6" y="368.6" font-size="7.6" style="stroke-width:0.12px">Control C-1</text>
<line x1="420.9" y1="382.3" x2="443.8" y2="382.3" stroke="#000" stroke-width="1.2" stroke-dasharray="2 2.3"/>
<path d="M432.35 379.60 L434.85 382.30 L432.35 385.00 L429.85 382.30 Z" fill="#000"/>
<text x="447.6" y="385.0" font-size="7.6" style="stroke-width:0.12px">sh<tspan font-style="italic">ASNS</tspan>-1 C-1</text>
<line x1="420.9" y1="397.8" x2="443.8" y2="397.8" stroke="#000" stroke-width="1.2" stroke-dasharray="5.4 9.3 1.5 5.4 3 99"/>
<path d="M432.35 394.80 L435.05 400.00 L429.65 400.00 Z" fill="#000"/>
<text x="447.6" y="400.5" font-size="7.6" style="stroke-width:0.12px">sh<tspan font-style="italic">ASNS</tspan>-2 C-3</text>
<text transform="translate(372.70,452.00) scale(1.12,0.92)" x="0" y="5.50" font-size="10" text-anchor="middle" font-family="DejaVu Sans, sans-serif" style="stroke-width:0.3px">*</text>
<text transform="translate(372.70,471.50) scale(1.12,0.92)" x="0" y="5.50" font-size="10" text-anchor="middle" font-family="DejaVu Sans, sans-serif" style="stroke-width:0.3px">*</text>
</svg>
</body></html>
